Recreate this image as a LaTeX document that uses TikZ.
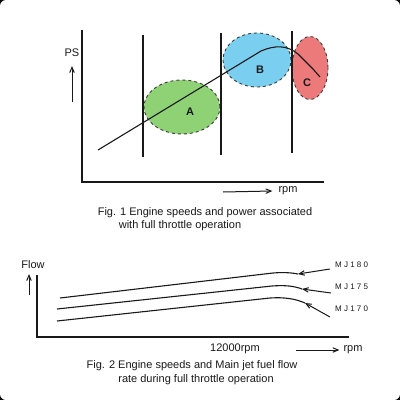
\documentclass[tikz,border=0pt]{standalone}
\usepackage{fontspec}
\setmainfont{Liberation Sans}
\usetikzlibrary{positioning, arrows, shapes.geometric}

\definecolor{zoneA}{RGB}{143,210,118}
\definecolor{zoneB}{RGB}{122,206,240}
\definecolor{zoneC}{RGB}{236,122,122}
\definecolor{edgegray}{RGB}{60,60,60}
\definecolor{ink}{RGB}{25,25,25}

\tikzset{
  axis/.style={line width=1.2pt, ink},
  curve/.style={line width=1.1pt, ink},
  zone/.style={ellipse, draw=edgegray, dashed, line width=0.9pt, inner sep=0pt},
  zonelabel/.style={font=\fontsize{11}{13}\selectfont\bfseries, text=ink},
  txt/.style={font=\fontsize{11}{13}\selectfont, inner sep=0pt, text=ink},
  mjlabel/.style={font=\fontsize{8}{10}\selectfont, inner sep=0pt, anchor=west, text=ink},
  pointer/.style={->, >=angle 45, line width=1pt, ink}
}

\begin{document}
\begin{tikzpicture}[x=1pt, y=-1pt]
  \useasboundingbox (0,0) rectangle (400,400);
  \fill[black] (0,0) rectangle (400,400);
  \fill[white, rounded corners=6pt] (0,0) rectangle (400,400);

  % Fig. 1
  \node[zone, fill=zoneA, minimum width=76, minimum height=54] (ellA) at (182,107) {};
  \node[zone, fill=zoneB, minimum width=68, minimum height=54] (ellB) at (257,60) {};
  \node[zone, fill=zoneC, minimum width=36, minimum height=63] (ellC) at (310,68) {};
  \node[zonelabel] (labA) at (190,112) {A};
  \node[zonelabel] (labB) at (260,70) {B};
  \node[zonelabel] (labC) at (307,83) {C};

  \coordinate (o1) at (82,182);
  \draw[axis] (82,30) -- (o1) -- (324,182);
  \draw[curve] (143,35) -- (143,157);
  \draw[curve] (221,33) -- (221,155);
  \draw[curve] (292,31) -- (292,153);

  \draw[curve] (98,150) -- (261,51) .. controls (275,45) and (287,45) .. (298,54)
    -- (305,61) -- (313,69) -- (320,77);

  \node[txt] (ps) at (72,53) {PS};
  \draw[pointer] (72,102) -- (72,66);
  \node[txt] (rpm1) at (288,191) {rpm};
  \draw[pointer] (223,192) -- ([xshift=-6pt]rpm1.west);

  \node[txt] (cap1a) at (205,213) {Fig. 1 Engine speeds and power associated};
  \node[txt] (cap1b) at (180,226) {with full throttle operation};

  % Fig. 2
  \draw[axis] (37,275) -- (37,337) -- (349,337);
  \node[txt] (flow) at (33,265) {Flow};
  \draw[pointer] (29,295) -- (29,274);

  \coordinate (e180) at (298,274);
  \coordinate (e175) at (302,289);
  \coordinate (e170) at (305,303);
  \draw[curve] (60,298) -- (273,273) .. controls (285,272) and (293,273) .. (e180);
  \draw[curve] (57,309) -- (272,286) .. controls (285,285) and (294,286) .. (e175);
  \draw[curve] (57,321) -- (270,298) .. controls (285,297) and (296,299) .. (e170);

  \node[mjlabel] (mj180) at (335,265) {M J 1 8 0};
  \node[mjlabel] (mj175) at (335,287) {M J 1 7 5};
  \node[mjlabel] (mj170) at (335,309) {M J 1 7 0};
  \draw[pointer] (330,269) -- (e180);
  \draw[pointer] (331,293) -- (e175);
  \draw[pointer] (330,317) -- (e170);

  \node[txt] (rpmval) at (235,349) {12000rpm};
  \node[txt] (rpm2) at (353,350) {rpm};
  \draw[pointer] (296,350) -- ([xshift=-4pt]rpm2.west);

  \node[txt] (cap2a) at (192,366) {Fig. 2 Engine speeds and Main jet fuel flow};
  \node[txt] (cap2b) at (196,380) {rate during full throttle operation};
\end{tikzpicture}
\end{document}
